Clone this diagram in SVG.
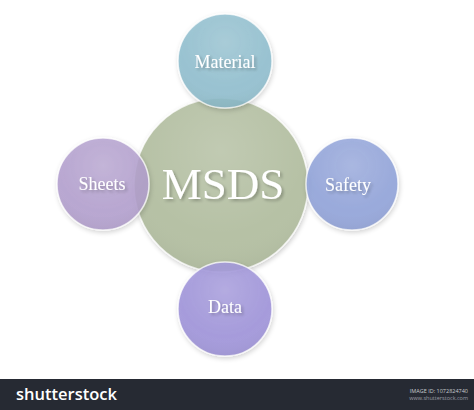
<svg xmlns="http://www.w3.org/2000/svg" width="474" height="410" viewBox="0 0 474 410">
  <defs>
    <radialGradient id="gloss" cx="0.5" cy="0.3" r="0.7">
      <stop offset="0" stop-color="#ffffff" stop-opacity="0.15"/>
      <stop offset="0.7" stop-color="#ffffff" stop-opacity="0"/>
      <stop offset="1" stop-color="#000000" stop-opacity="0.04"/>
    </radialGradient>
    <filter id="shadow" x="-20%" y="-20%" width="140%" height="140%">
      <feGaussianBlur in="SourceAlpha" stdDeviation="2.5"/>
      <feOffset dx="1" dy="2" result="b"/>
      <feComponentTransfer><feFuncA type="linear" slope="0.2"/></feComponentTransfer>
      <feMerge><feMergeNode/><feMergeNode in="SourceGraphic"/></feMerge>
    </filter>
    <filter id="tshadow" x="-20%" y="-30%" width="140%" height="160%">
      <feGaussianBlur in="SourceAlpha" stdDeviation="1.5"/>
      <feOffset dx="1.5" dy="2" result="b"/>
      <feComponentTransfer><feFuncA type="linear" slope="0.25"/></feComponentTransfer>
      <feMerge><feMergeNode/><feMergeNode in="SourceGraphic"/></feMerge>
    </filter>
  </defs>
  <style>
    .disc { stroke: #ffffff; stroke-opacity: 0.75; stroke-width: 1.5; }
    .rim { fill: url(#gloss); }
    .lbl { font-family: "Liberation Serif", "Times New Roman", serif; fill: #ffffff; text-anchor: middle; }
  </style>
  <rect width="474" height="410" fill="#ffffff"/>

  <g id="connectors"></g>

  <g id="msds" filter="url(#shadow)">
    <circle class="disc" cx="221" cy="185" r="87" fill="#b6c1a5"/>
    <circle class="rim" cx="221" cy="185" r="87"/>
    <text class="lbl" x="223" y="199" font-size="45" filter="url(#tshadow)">MSDS</text>
  </g>

  <g id="material" filter="url(#shadow)">
    <circle class="disc" cx="225" cy="61" r="47" fill="#8dbdcd" fill-opacity="0.86"/>
    <circle class="rim" cx="225" cy="61" r="47"/>
    <text class="lbl" x="225" y="68" font-size="18" filter="url(#tshadow)">Material</text>
  </g>

  <g id="sheets" filter="url(#shadow)">
    <circle class="disc" cx="103" cy="184" r="46" fill="#b19dcd" fill-opacity="0.86"/>
    <circle class="rim" cx="103" cy="184" r="46"/>
    <text class="lbl" x="102" y="190" font-size="18" filter="url(#tshadow)">Sheets</text>
  </g>

  <g id="safety" filter="url(#shadow)">
    <circle class="disc" cx="352" cy="184" r="46" fill="#8ea1d9" fill-opacity="0.86"/>
    <circle class="rim" cx="352" cy="184" r="46"/>
    <text class="lbl" x="348" y="191" font-size="18" filter="url(#tshadow)">Safety</text>
  </g>

  <g id="data" filter="url(#shadow)">
    <circle class="disc" cx="225" cy="309" r="47" fill="#9c90d8" fill-opacity="0.86"/>
    <circle class="rim" cx="225" cy="309" r="47"/>
    <text class="lbl" x="225" y="313" font-size="18" filter="url(#tshadow)">Data</text>
  </g>

  <g id="footer">
    <rect x="0" y="379" width="474" height="31" fill="#262a33"/>
    <text x="16" y="400" font-family="'Open Sans', Lato, sans-serif" font-weight="600" font-size="16.5" fill="#ffffff">shutterstock</text>
    <text x="468" y="393" font-family="'Open Sans', 'Liberation Sans', sans-serif" font-size="5.5" fill="#c8cad0" text-anchor="end">IMAGE ID: 1072824740</text>
    <text x="468" y="400" font-family="'Open Sans', 'Liberation Sans', sans-serif" font-size="5.5" fill="#9a9da5" text-anchor="end">www.shutterstock.com</text>
  </g>
</svg>
